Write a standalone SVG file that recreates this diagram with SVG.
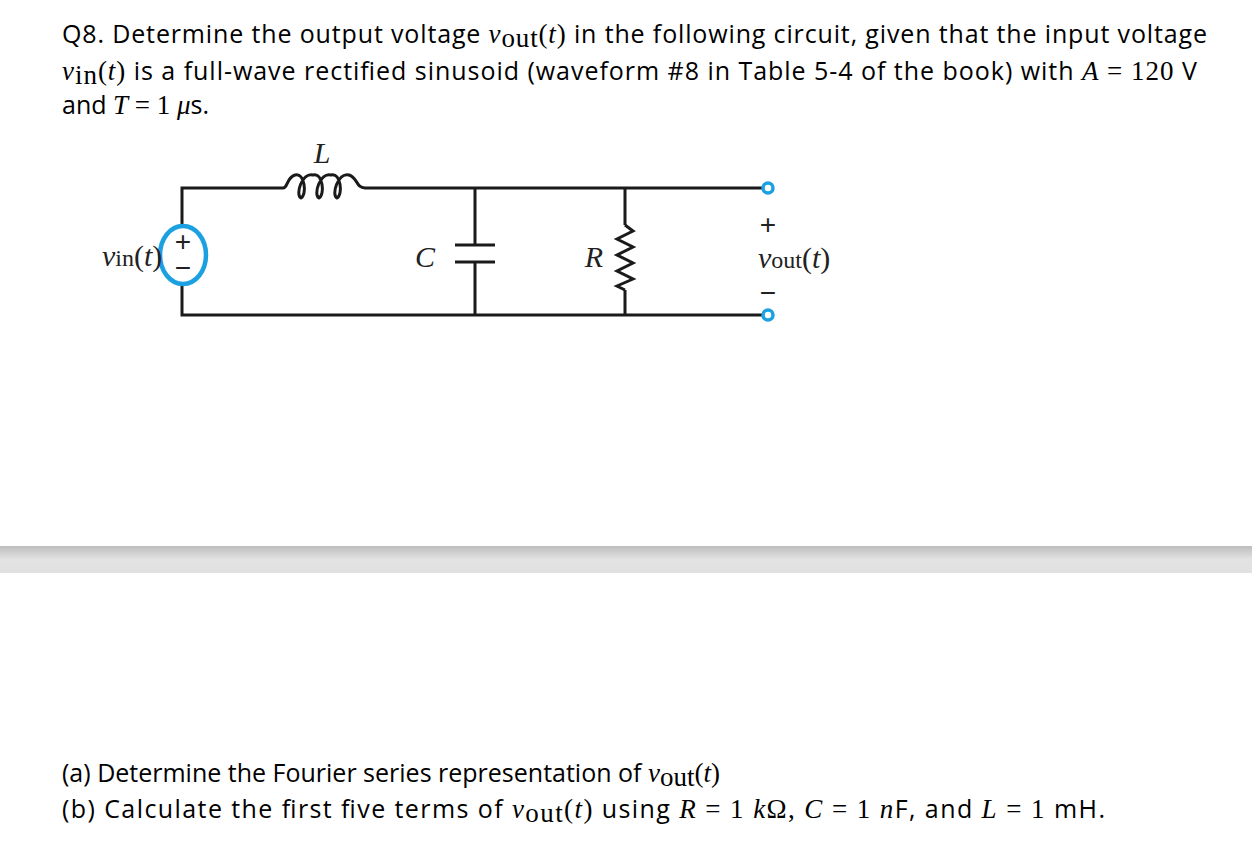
<svg xmlns="http://www.w3.org/2000/svg" width="1252" height="843" viewBox="0 0 1252 843">
<defs>
<linearGradient id="band" x1="0" y1="0" x2="0" y2="1">
<stop offset="0" stop-color="#bdbdbd"/><stop offset="0.5" stop-color="#e3e3e3"/><stop offset="1" stop-color="#e0e0e0"/>
</linearGradient>
</defs>
<style>
.t{font-family:"Open Sans","Liberation Sans",sans-serif;font-size:25px;fill:#000}
.m{font-family:"Liberation Serif",serif;font-style:italic;font-size:27px}
.r{font-family:"Liberation Serif",serif;font-size:27px}
.w{stroke:#1a1a1a;stroke-width:3;fill:none}
.lb{font-family:"Liberation Serif",serif;font-style:italic;font-size:30px;fill:#222}
.up{font-style:normal}
.term{fill:#fff;stroke:#1ba1e2;stroke-width:3.5}
.pm{font-family:"Liberation Sans",sans-serif;font-size:28px;fill:#222}
</style>
<rect width="1252" height="843" fill="#fff"/>
<text class="t" x="62" y="43" textLength="1145" lengthAdjust="spacing">Q8. Determine the output voltage <tspan class="m">v</tspan><tspan class="r" font-size="21" dy="4">out</tspan><tspan class="r" dy="-4">(</tspan><tspan class="m">t</tspan><tspan class="r">)</tspan> in the following circuit, given that the input voltage</text>
<text class="t" x="62" y="80" textLength="1135" lengthAdjust="spacing"><tspan class="m">v</tspan><tspan class="r" font-size="21" dy="4">in</tspan><tspan class="r" dy="-4">(</tspan><tspan class="m">t</tspan><tspan class="r">)</tspan> is a full-wave rectified sinusoid (waveform #8 in Table 5-4 of the book) with <tspan class="m">A</tspan><tspan class="r"> = 120 </tspan>V</text>
<text class="t" x="62" y="114">and <tspan class="m">T</tspan><tspan class="r">   =   1 </tspan><tspan class="m">μ</tspan>s.</text>

<g id="connectors">
<path class="w" d="M182 226 V188 H283 M365 188 H768 M182 284 V315 H768 M475 188 V245 M475 262 V315 M625 188 V225 M625 290 V315"/>
</g>
<g id="source">
<ellipse cx="183" cy="255" rx="23" ry="29" fill="none" stroke="#1ba1e2" stroke-width="4.5"/>
<text class="pm" x="183" y="251" text-anchor="middle">+</text>
<text class="pm" x="183" y="277" text-anchor="middle" font-size="22">−</text>
<text class="lb" x="102" y="266">v<tspan class="up" font-size="24">in</tspan><tspan class="up">(</tspan>t<tspan class="up">)</tspan></text>
</g>
<g id="inductor">
<path class="w" d="M283 188 C288 188 286 178 295 175 C305 172 307 195 301 198 C295 195 302 172 313 175 C323 172 325 195 319 198 C313 195 320 172 331 175 C341 172 343 195 337 198 C331 195 338 172 349 175 C358 178 356 188 365 188"/>
<text class="lb" x="322" y="163" text-anchor="middle">L</text>
</g>
<g id="capacitor">
<path class="w" d="M455 245 H495 M455 262 H495"/>
<text class="lb" x="425" y="267" text-anchor="middle">C</text>
</g>
<g id="resistor">
<path class="w" d="M625 225 L633 231 L617 239 L633 247 L617 255 L633 263 L617 271 L633 279 L617 286 L625 290"/>
<text class="lb" x="594" y="267" text-anchor="middle">R</text>
</g>
<g id="output">
<circle class="term" cx="768" cy="188" r="5"/>
<circle class="term" cx="768" cy="315" r="5"/>
<text class="pm" x="768" y="234" text-anchor="middle">+</text>
<text class="pm" x="768" y="302" text-anchor="middle">−</text>
<text class="lb" x="758" y="268">v<tspan class="up" font-size="24">out</tspan><tspan class="up">(</tspan>t<tspan class="up">)</tspan></text>
</g>
<rect x="0" y="546" width="1252" height="27" fill="url(#band)"/>
<text class="t" x="62" y="782">(a) Determine the Fourier series representation of <tspan class="m">v</tspan><tspan class="r" font-size="21" dy="4">out</tspan><tspan class="r" dy="-4">(</tspan><tspan class="m">t</tspan><tspan class="r">)</tspan></text>
<text class="t" x="62" y="818" textLength="1043" lengthAdjust="spacing">(b) Calculate the first five terms of <tspan class="m">v</tspan><tspan class="r" font-size="21" dy="4">out</tspan><tspan class="r" dy="-4">(</tspan><tspan class="m">t</tspan><tspan class="r">)</tspan> using <tspan class="m">R</tspan><tspan class="r"> = 1 </tspan><tspan class="m">k</tspan><tspan class="r">Ω, </tspan><tspan class="m">C</tspan><tspan class="r"> = 1 </tspan><tspan class="m">n</tspan>F, and <tspan class="m">L</tspan><tspan class="r">   =   1 </tspan>mH.</text>
</svg>
